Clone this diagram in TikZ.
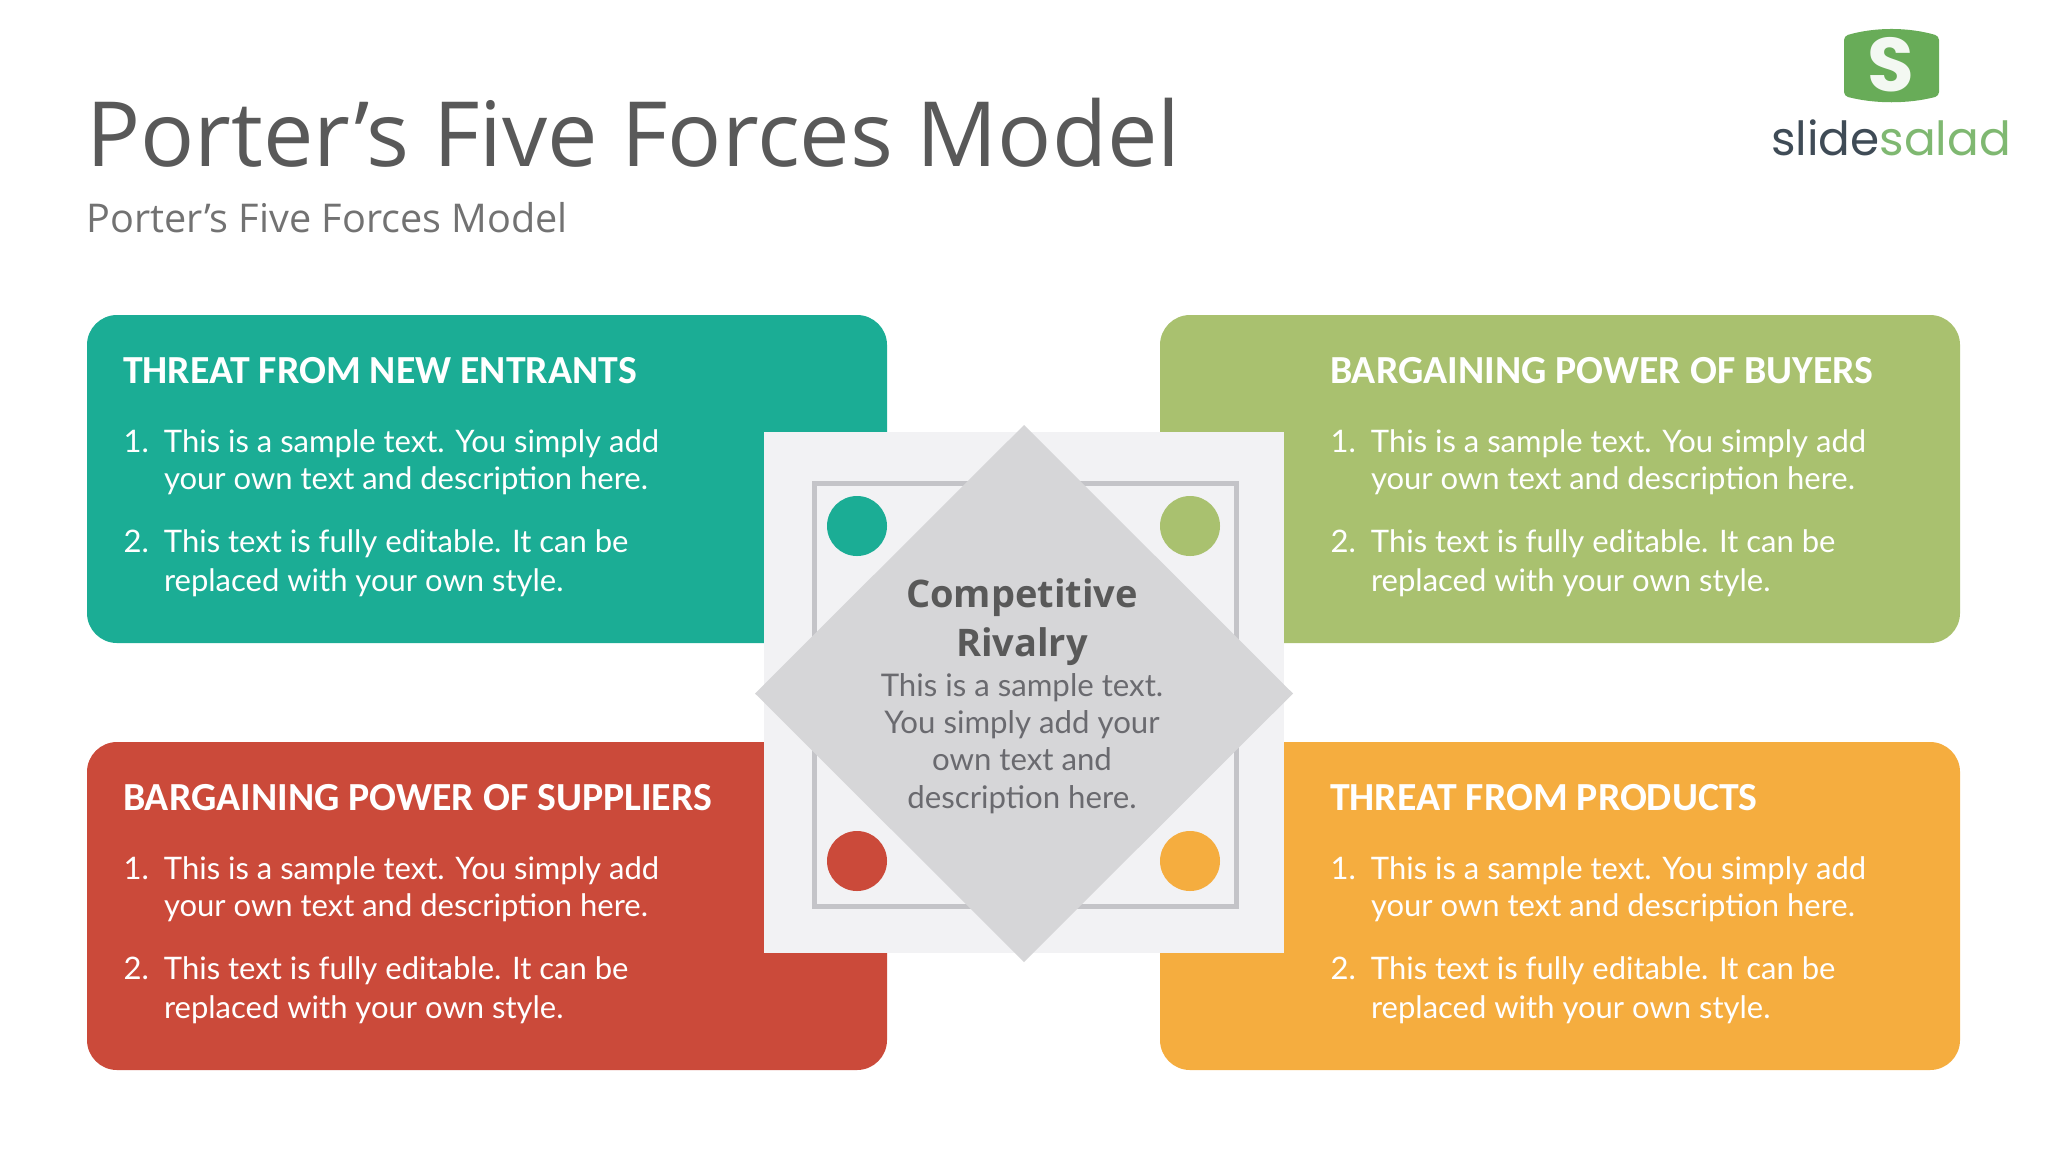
\documentclass[tikz,border=0pt]{standalone}
\usepackage{fontspec}
\usepackage{tikz}
\usetikzlibrary{shapes, positioning}
\setmainfont{Carlito}
\newfontfamily\titlefont{Open Sans}
\newfontfamily\bodyfont{Lato}
\newfontfamily\logofont{Poppins}
\definecolor{tealbox}{HTML}{1BAD95}
\definecolor{olivebox}{HTML}{A9C16F}
\definecolor{redbox}{HTML}{CB4A3A}
\definecolor{orangebox}{HTML}{F5AD3F}
\definecolor{panel}{HTML}{F2F2F4}
\definecolor{frameline}{HTML}{C4C4C8}
\definecolor{diamondfill}{HTML}{D6D6D8}
\definecolor{titlegrey}{HTML}{595959}
\definecolor{centergrey}{HTML}{6A6A6F}
\definecolor{logogreen}{HTML}{68AC58}
\definecolor{logodark}{HTML}{3F4B56}
\newcommand{\itemno}[1]{\leavevmode\llap{#1\hspace{7.5pt}}}
\tikzset{
	forcebox/.style = {rectangle, rounded corners=15pt, minimum width=400pt, minimum height=164pt, inner sep=0pt, outer sep=0pt},
	head/.style = {inner sep=0pt, outer sep=0pt, text=white, anchor=north west, font=\fontsize{19.9}{24}\selectfont\bfseries, text height=12.7pt, text depth=0pt},
	item/.style = {inner sep=0pt, outer sep=0pt, text=white, align=left, font=\bodyfont\fontsize{15.5}{18.6}\selectfont},
	spot/.style = {circle, minimum size=30pt, inner sep=0pt, outer sep=0pt},
}
\begin{document}
\begin{tikzpicture}[x=0.5pt, y=-0.5pt]
	\useasboundingbox (0,0) rectangle (2048,1152);
	\node [inner sep=0pt, anchor=base west, text=titlegrey, font=\titlefont\fontsize{45}{52}\selectfont] (Title) at (86,166) {Porter’s Five Forces Model};
	\node [inner sep=0pt, anchor=base west, text=titlegrey!85!white, font=\titlefont\fontsize{19.8}{24}\selectfont] (Subtitle) at (86,232) {Porter’s Five Forces Model};
	% logo
	\fill [logogreen, rounded corners=2pt] (1844,36) .. controls (1875,27) and (1908,27) .. (1939,36) -- (1939,96) .. controls (1908,104) and (1875,104) .. (1844,96) -- cycle;
	\node [inner sep=0pt, text=white!92!logogreen, font=\logofont\fontsize{38}{38}\selectfont\bfseries] (Logo) at (1891,65) {S};
	\node [inner sep=0pt, anchor=base, text=logodark, font=\logofont\fontsize{23.5}{28}\selectfont] (LogoText) at (1891,155) {slide\textcolor{logogreen!85!white}{salad}};
	% four boxes
	\node [forcebox, fill=tealbox] (TealBox) at (487,479) {};
	\node [forcebox, fill=olivebox, right=136.5pt of TealBox] (OliveBox) {};
	\node [forcebox, fill=redbox, below=49.5pt of TealBox] (RedBox) {};
	\node [forcebox, fill=orangebox, below=49.5pt of OliveBox] (OrangeBox) {};
	\node [head, below right=21.5pt and 18pt of TealBox.north west] (TealHead) {THREAT FROM NEW ENTRANTS};
	\node [item, below right=57.2pt and 38.5pt of TealBox.north west] (TealOne) {\itemno{1.}This is a sample text. You simply add\\your own text and description here.};
	\node [item, below right=107.2pt and 38.5pt of TealBox.north west] (TealTwo) {\itemno{2.}This text is fully editable. It can be\\[0.8pt]replaced with your own style.};
	\node [head, below right=21.5pt and 85pt of OliveBox.north west] (OliveHead) {BARGAINING POWER OF BUYERS};
	\node [item, below right=57.2pt and 105.5pt of OliveBox.north west] (OliveOne) {\itemno{1.}This is a sample text. You simply add\\your own text and description here.};
	\node [item, below right=107.2pt and 105.5pt of OliveBox.north west] (OliveTwo) {\itemno{2.}This text is fully editable. It can be\\[0.8pt]replaced with your own style.};
	\node [head, below right=21.5pt and 18pt of RedBox.north west] (RedHead) {BARGAINING POWER OF SUPPLIERS};
	\node [item, below right=57.2pt and 38.5pt of RedBox.north west] (RedOne) {\itemno{1.}This is a sample text. You simply add\\your own text and description here.};
	\node [item, below right=107.2pt and 38.5pt of RedBox.north west] (RedTwo) {\itemno{2.}This text is fully editable. It can be\\[0.8pt]replaced with your own style.};
	\node [head, below right=21.5pt and 85pt of OrangeBox.north west] (OrangeHead) {THREAT FROM PRODUCTS};
	\node [item, below right=57.2pt and 105.5pt of OrangeBox.north west] (OrangeOne) {\itemno{1.}This is a sample text. You simply add\\your own text and description here.};
	\node [item, below right=107.2pt and 105.5pt of OrangeBox.north west] (OrangeTwo) {\itemno{2.}This text is fully editable. It can be\\[0.8pt]replaced with your own style.};
	% centre
	\node [rectangle, fill=panel, minimum width=260pt, minimum height=260.5pt, inner sep=0pt, outer sep=0pt] (Panel) at (1024,692.5) {};
	\node [rectangle, draw=frameline, line width=2.5pt, minimum width=211pt, minimum height=211.5pt, inner sep=0pt] (Frame) at (1025.5,695) {};
	\node [spot, fill=tealbox] (TealSpot) at (857,526) {};
	\node [spot, fill=olivebox] (OliveSpot) at (1190,526) {};
	\node [spot, fill=redbox] (RedSpot) at (857,861) {};
	\node [spot, fill=orangebox] (OrangeSpot) at (1190,861) {};
	\node [diamond, aspect=1, fill=diamondfill, minimum width=269pt, minimum height=268.5pt, inner sep=0pt, outer sep=0pt] (Centre) at (1024,693.5) {};
	\node [inner sep=0pt, align=center, text=titlegrey, font=\titlefont\fontsize{19}{24.5}\selectfont\bfseries, anchor=base] (CentreHead) at (1022,656) {Competitive\\Rivalry};
	\node [inner sep=0pt, align=center, text=centergrey, font=\bodyfont\fontsize{15.6}{18.6}\selectfont, anchor=base] (CentreText) at (1022,808) {This is a sample text.\\You simply add your\\own text and\\description here.};
\end{tikzpicture}
\end{document}
